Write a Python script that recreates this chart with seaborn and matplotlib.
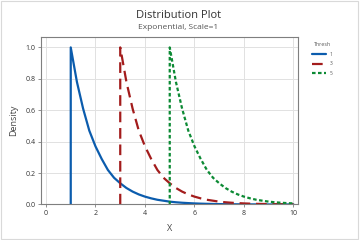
import matplotlib
matplotlib.use("Agg")
import matplotlib.pyplot as plt
import seaborn as sns
import pandas as pd
import numpy as np

# Data
thresholds = [1, 3, 5]
# density read at offsets (0, 0.25, 0.5, ...) past each threshold
offsets = [0.0, 0.25, 0.5, 0.75, 1.0, 1.25, 1.5, 1.75, 2.0, 2.25, 2.5, 2.75,
           3.0, 3.25, 3.5, 3.75, 4.0, 4.25, 4.5, 4.75, 5.0, 5.25, 5.5, 5.75,
           6.0, 6.25, 6.5, 6.75, 7.0, 7.25, 7.5, 7.75, 8.0, 8.25, 8.5, 8.75, 9.0]
density = [1.0, 0.78, 0.61, 0.47, 0.37, 0.29, 0.22, 0.17, 0.135, 0.105, 0.082,
           0.064, 0.05, 0.039, 0.030, 0.024, 0.018, 0.014, 0.011, 0.0087, 0.0067,
           0.0052, 0.0041, 0.0032, 0.0025, 0.0019, 0.0015, 0.0012, 0.0009,
           0.0007, 0.0006, 0.0004, 0.0003, 0.0003, 0.0002, 0.0002, 0.0001]
x_max = 10
colors = ["#0b5cad", "#a31c1c", "#0c8a34"]

rows = []
for t in thresholds:
    rows.append({"X": t, "Density": 0.0, "Thresh": str(t)})
    for o, d in zip(offsets, density):
        if t + o <= x_max:
            rows.append({"X": t + o, "Density": d, "Thresh": str(t)})
df = pd.DataFrame(rows)

sns.set_style("white")
plt.rcParams["font.family"] = ["Open Sans", "DejaVu Sans"]

fig = plt.figure(figsize=(3.6, 2.4), dpi=100)
ax = fig.add_axes([0.114, 0.148, 0.715, 0.699])

dashes = {"1": "", "3": (4.8, 2.6), "5": (1.6, 1.1)}
sns.lineplot(data=df, x="X", y="Density", hue="Thresh", style="Thresh",
             palette=colors, dashes=dashes, linewidth=1.6, sort=False,
             estimator=None, ax=ax)

ax.set_xlim(-0.2, 10.2)
ax.set_ylim(0, 1.068)
ax.set_xticks([0, 2, 4, 6, 8, 10])
ax.set_yticks([0.0, 0.2, 0.4, 0.6, 0.8, 1.0])
ax.set_yticklabels(["0.0", "0.2", "0.4", "0.6", "0.8", "1.0"])
ax.grid(True, color="#e1e1e1", linewidth=0.7)
ax.set_axisbelow(True)
for s in ax.spines.values():
    s.set_color("#7f7f7f")
    s.set_linewidth(0.8)
ax.tick_params(axis="both", labelsize=5, colors="#333333", length=2.5,
               width=0.6, pad=1.5, direction="out", left=True, bottom=True)
ax.tick_params(axis="both", colors="#7f7f7f", labelcolor="#333333")
ax.set_xlabel("X", fontsize=6.5, color="#444444", labelpad=5)
ax.set_ylabel("Density", fontsize=6.5, color="#444444", labelpad=5)

leg = ax.legend(title="Thresh", loc="upper left", bbox_to_anchor=(1.045, 0.98),
                frameon=False, fontsize=3.5, title_fontsize=3.8,
                handlelength=2.8, labelspacing=0.95, borderaxespad=0,
                handletextpad=0.8)
for h in leg.get_lines():
    h.set_linewidth(1.6)
for txt in leg.get_texts():
    txt.set_color("#555555")
leg.get_title().set_color("#555555")

fig.text(0.496, 0.935, "Distribution Plot", ha="center", va="center",
         fontsize=8, color="#333333")
fig.text(0.496, 0.885, "Exponential, Scale=1", ha="center", va="center",
         fontsize=6, color="#555555")

fig.patches.append(plt.Rectangle((0.004, 0.006), 0.99, 0.99, transform=fig.transFigure,
                                 fill=False, edgecolor="#d9d9d9", linewidth=0.8))
fig.savefig("out.png", dpi=100)
